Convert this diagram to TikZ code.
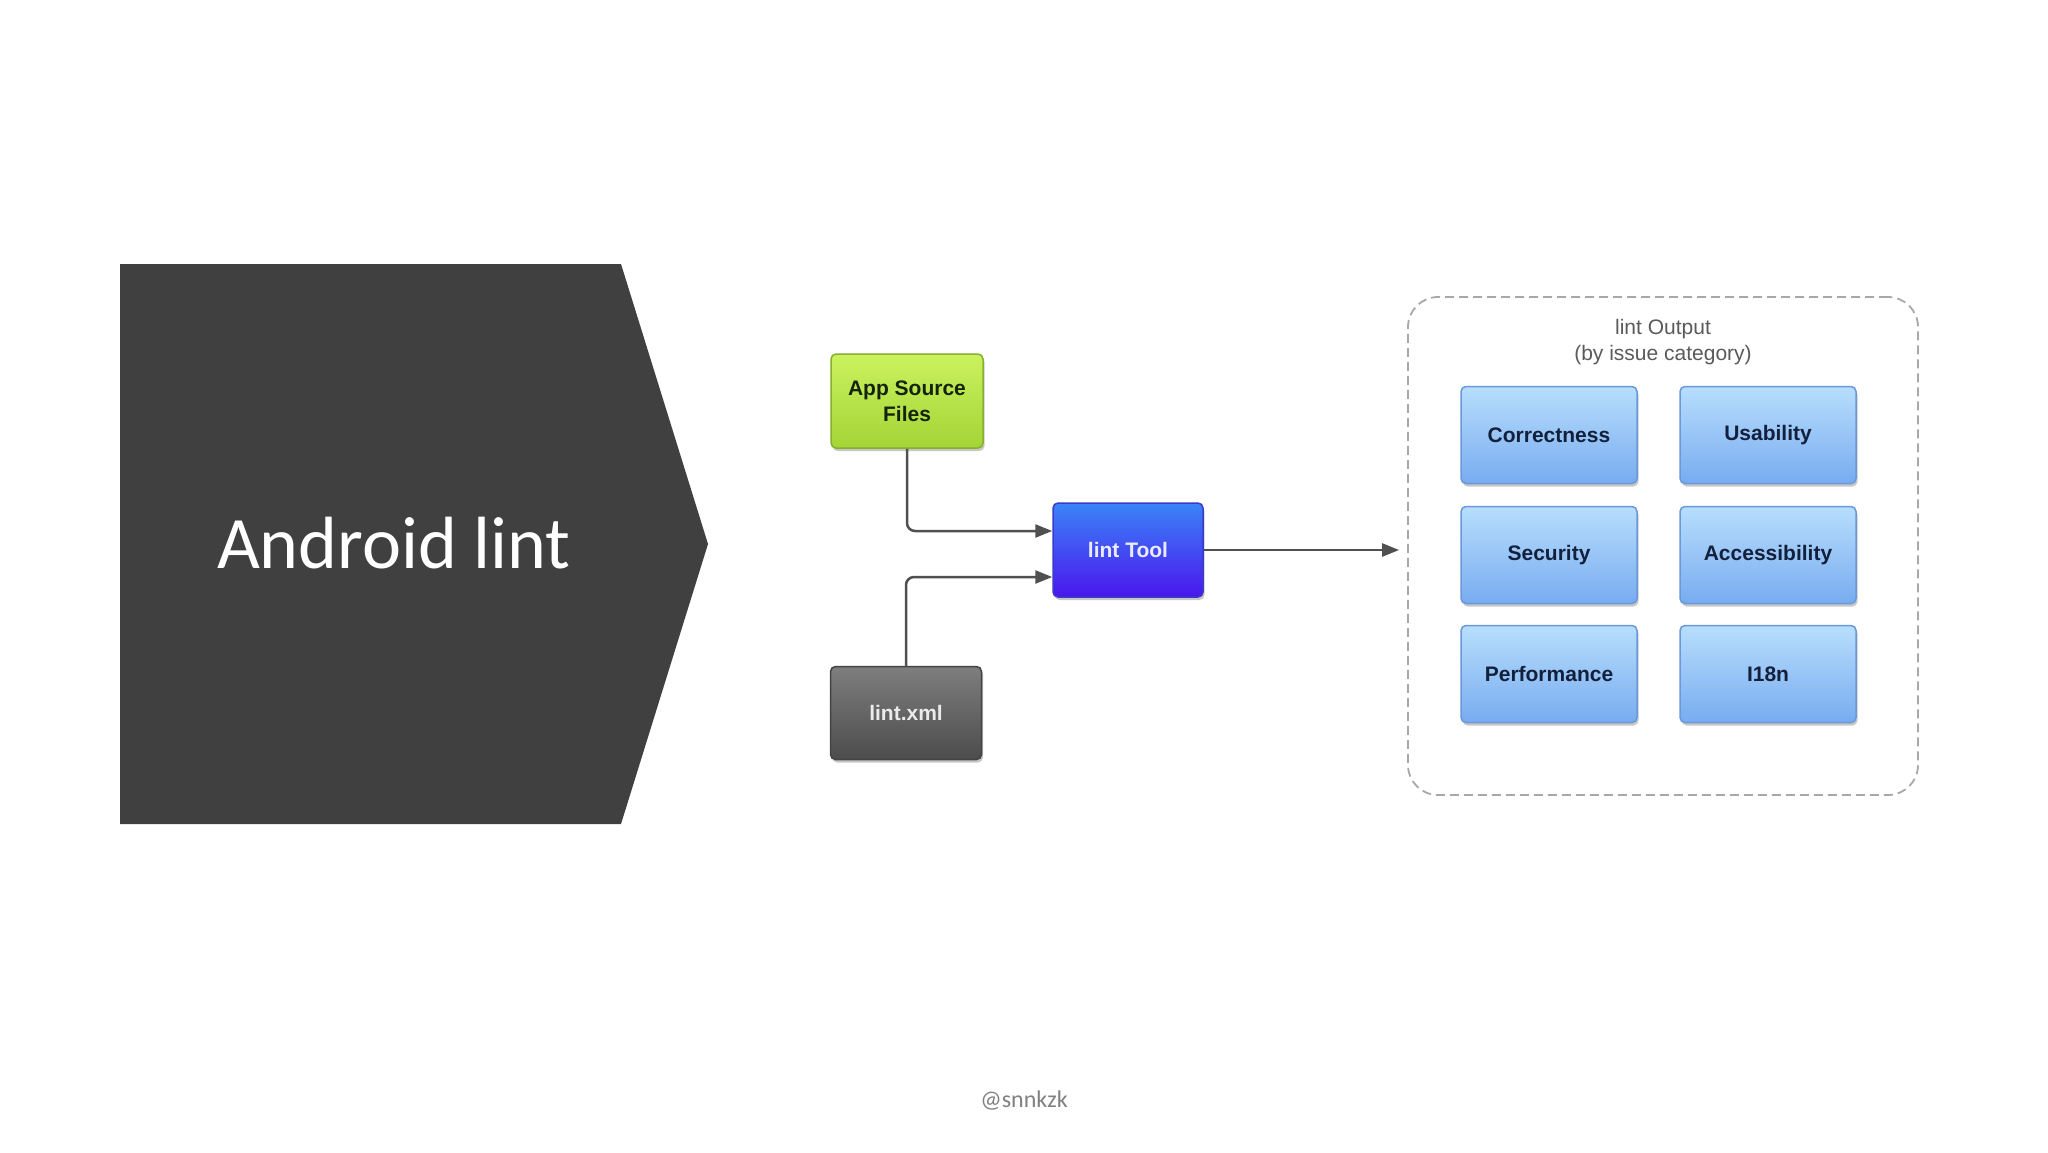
\documentclass[tikz,border=0pt]{standalone}
\usepackage{fontspec}
\setmainfont{Carlito}
\newfontfamily\hv{Liberation Sans}
\usetikzlibrary{arrows.meta,shadows}
\definecolor{slate}{HTML}{404040}
\definecolor{appTop}{HTML}{CBF25E}
\definecolor{appBot}{HTML}{A3D436}
\definecolor{appLine}{HTML}{86B02E}
\definecolor{appText}{HTML}{14240A}
\definecolor{toolTop}{HTML}{3B84F8}
\definecolor{toolBot}{HTML}{4A16EC}
\definecolor{toolLine}{HTML}{3A3CC8}
\definecolor{xmlTop}{HTML}{7E7E7E}
\definecolor{xmlBot}{HTML}{4C4C4C}
\definecolor{xmlLine}{HTML}{444444}
\definecolor{catTop}{HTML}{B8DEFD}
\definecolor{catBot}{HTML}{78ACF0}
\definecolor{catLine}{HTML}{6A98DA}
\definecolor{catText}{HTML}{13203C}
\definecolor{connCol}{HTML}{505050}
\definecolor{dashCol}{HTML}{A8A8A8}
\definecolor{titleCol}{HTML}{5A5A5A}
\definecolor{signCol}{HTML}{808080}
\tikzset{
  boxbase/.style={rectangle, rounded corners=5pt, line width=1.5pt, align=center,
    inner sep=0pt,
    drop shadow={shadow xshift=1.5pt, shadow yshift=-3pt, opacity=0.22, fill=black}},
  appbox/.style={boxbase, minimum width=152pt, minimum height=94pt,
    top color=appTop, bottom color=appBot, draw=appLine, text=appText,
    font=\hv\bfseries\fontsize{21}{26}\selectfont},
  toolbox/.style={boxbase, minimum width=150pt, minimum height=94pt,
    top color=toolTop, bottom color=toolBot, draw=toolLine, text=white!92!blue,
    font=\hv\bfseries\fontsize{21}{26}\selectfont},
  xmlbox/.style={boxbase, minimum width=151pt, minimum height=93pt,
    top color=xmlTop, bottom color=xmlBot, draw=xmlLine, text=white!92!black,
    font=\hv\bfseries\fontsize{21}{26}\selectfont},
  catbox/.style={boxbase, minimum width=176pt, minimum height=97pt,
    top color=catTop, bottom color=catBot, draw=catLine, text=catText,
    font=\hv\bfseries\fontsize{21}{26}\selectfont},
  outbox/.style={rectangle, rounded corners=30pt, draw=dashCol, line width=1.8pt,
    dash pattern=on 9pt off 5pt, minimum width=510pt, minimum height=498pt, inner sep=0pt},
  conn/.style={draw=connCol, line width=2.5pt,
    -{Triangle[length=17pt,width=13pt]}, rounded corners=8pt},
}
\begin{document}
\begin{tikzpicture}[x=1pt,y=-1pt]
\useasboundingbox[fill=white] (0,0) rectangle (2048,1152);
% title shape
\fill[slate] (120,264) -- (621,264) -- (708,544) -- (621,824) -- (120,824) -- cycle;
\node[anchor=base, text=white, font=\fontsize{74}{80}\selectfont, inner sep=0pt] (title) at (394,568) {Android lint};
% output container
\node[outbox] (out) at (1663,546) {};
\node[text=titleCol, align=center, font=\hv\fontsize{21}{26}\selectfont] (otitle) at (1663,342) {lint Output\\(by issue category)};
% inputs and tool
\node[appbox] (app) at (907,401) {App Source\\Files};
\node[toolbox] (tool) at (1128,550) {lint Tool};
\node[xmlbox] (xml) at (906,713) {lint.xml};
% categories
\node[catbox] (c1) at (1549,435) {Correctness};
\node[catbox] (c2) at (1768,435) {Usability};
\node[catbox] (c3) at (1549,555) {Security};
\node[catbox] (c4) at (1768,555) {Accessibility};
\node[catbox] (c5) at (1549,674) {Performance};
\node[catbox] (c6) at (1768,674) {I18n};
% connectors
\draw[conn] (app.south) |- ([yshift=19pt]tool.west);
\draw[conn] (xml.north) |- ([yshift=-27pt]tool.west);
\draw[conn, shorten >=8pt] (tool.east) -- (tool.east -| out.west);
% signature
\node[anchor=base, text=signCol, font=\fontsize{24}{28}\selectfont, inner sep=0pt] (sign) at (1024,1107) {@snnkzk};
\end{tikzpicture}
\end{document}
